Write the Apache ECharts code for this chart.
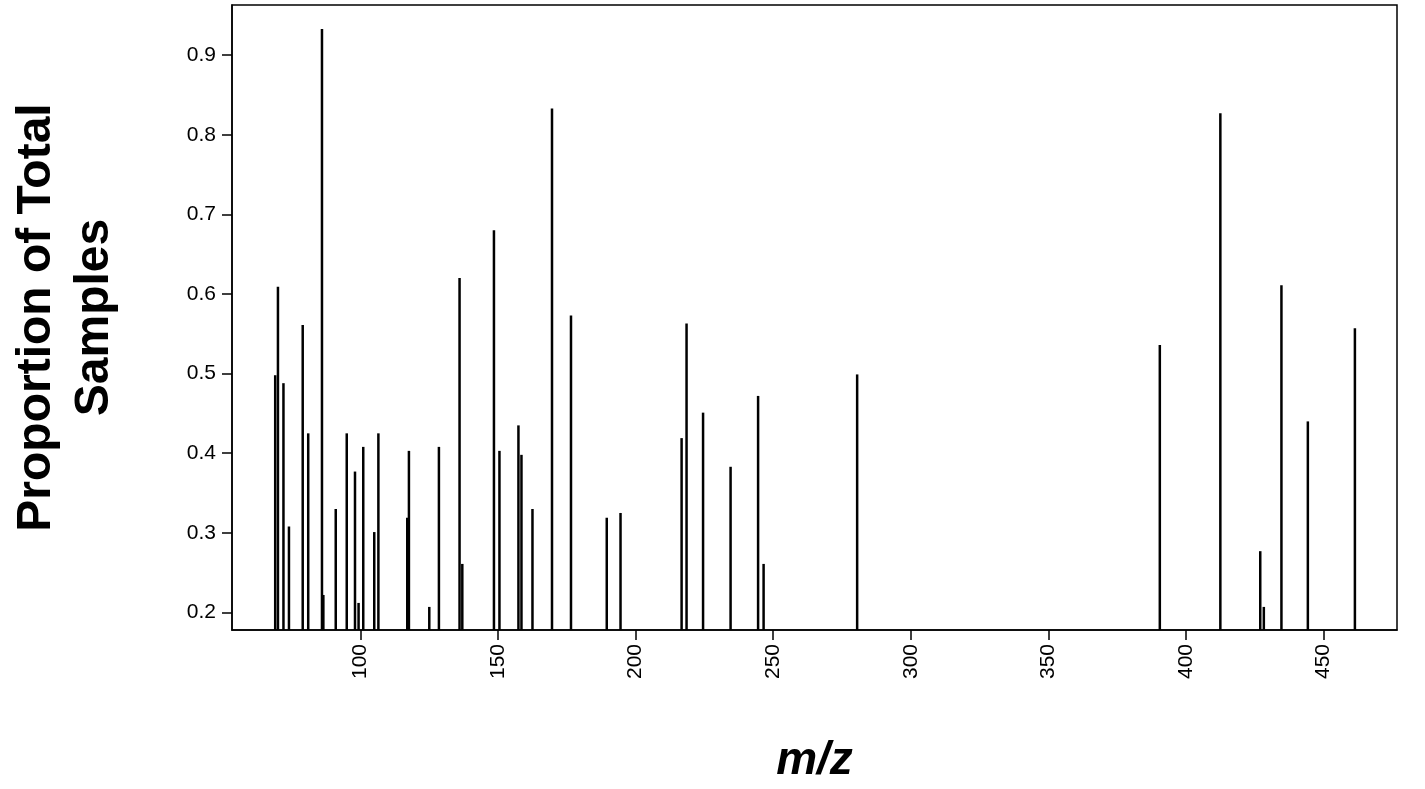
<!DOCTYPE html>
<html><head><meta charset="utf-8">
<script src="https://cdn.jsdelivr.net/npm/echarts@6/dist/echarts.min.js"></script>
<style>html,body{margin:0;padding:0;background:#fff}#c{width:1425px;height:789px}</style>
</head><body><div id="c"></div>
<script>
const mz = [69,70,72,74,79,81,86,86.5,91,95,98,99.3,101,105,106.5,117,117.6,125,128.5,136,137,148.5,150.5,157.4,158.5,162.5,169.6,176.5,189.5,194.5,216.7,218.5,224.5,234.5,244.5,246.5,280.5,390.5,412.5,427,428.3,434.7,444.3,461.4];
const proportion = [0.498,0.609,0.488,0.308,0.561,0.425,0.933,0.222,0.330,0.425,0.377,0.212,0.408,0.301,0.425,0.319,0.403,0.207,0.408,0.620,0.261,0.680,0.403,0.435,0.398,0.330,0.833,0.573,0.319,0.325,0.419,0.563,0.451,0.383,0.472,0.261,0.499,0.536,0.827,0.277,0.207,0.611,0.440,0.557];
const xTicks = [100,150,200,250,300,350,400,450];
const yTicks = [0.2,0.3,0.4,0.5,0.6,0.7,0.8,0.9];
const chart = echarts.init(document.getElementById('c'));
const font = 'Liberation Sans, Arial, sans-serif';
chart.setOption({
  animation:false,
  grid:{left:210,right:28,top:5,bottom:149,show:true,borderColor:'#000',borderWidth:1.5},
  xAxis:{type:'value',min:53.3,max:476.7,
    name:'m/z',nameLocation:'middle',nameGap:108,
    nameTextStyle:{fontSize:46,fontWeight:'bold',fontStyle:'italic',fontFamily:font,color:'#000'},
    axisLine:{show:true,lineStyle:{color:'#000',width:1.5}},
    axisTick:{show:true,customValues:xTicks,length:10,lineStyle:{color:'#000',width:1.5}},
    axisLabel:{customValues:xTicks,rotate:90,fontSize:21,fontFamily:font,color:'#000',margin:14},
    splitLine:{show:false}},
  yAxis:{type:'value',min:0.178,max:0.963,
    name:'Proportion of Total\nSamples',nameLocation:'middle',nameGap:108,nameRotate:90,
    nameTextStyle:{fontSize:48,fontWeight:'bold',fontFamily:font,color:'#000',lineHeight:58},
    axisLine:{show:true,lineStyle:{color:'#000',width:1.5}},
    axisTick:{show:true,customValues:yTicks,length:10,lineStyle:{color:'#000',width:1.5}},
    axisLabel:{customValues:yTicks,fontSize:21,fontFamily:font,color:'#000',margin:16,formatter:v=>v.toFixed(1)},
    splitLine:{show:false}},
  series:[{type:'bar',barWidth:2.5,itemStyle:{color:'#000'},
    data:mz.map((m,i)=>[m,proportion[i]])}]
});
</script></body></html>
